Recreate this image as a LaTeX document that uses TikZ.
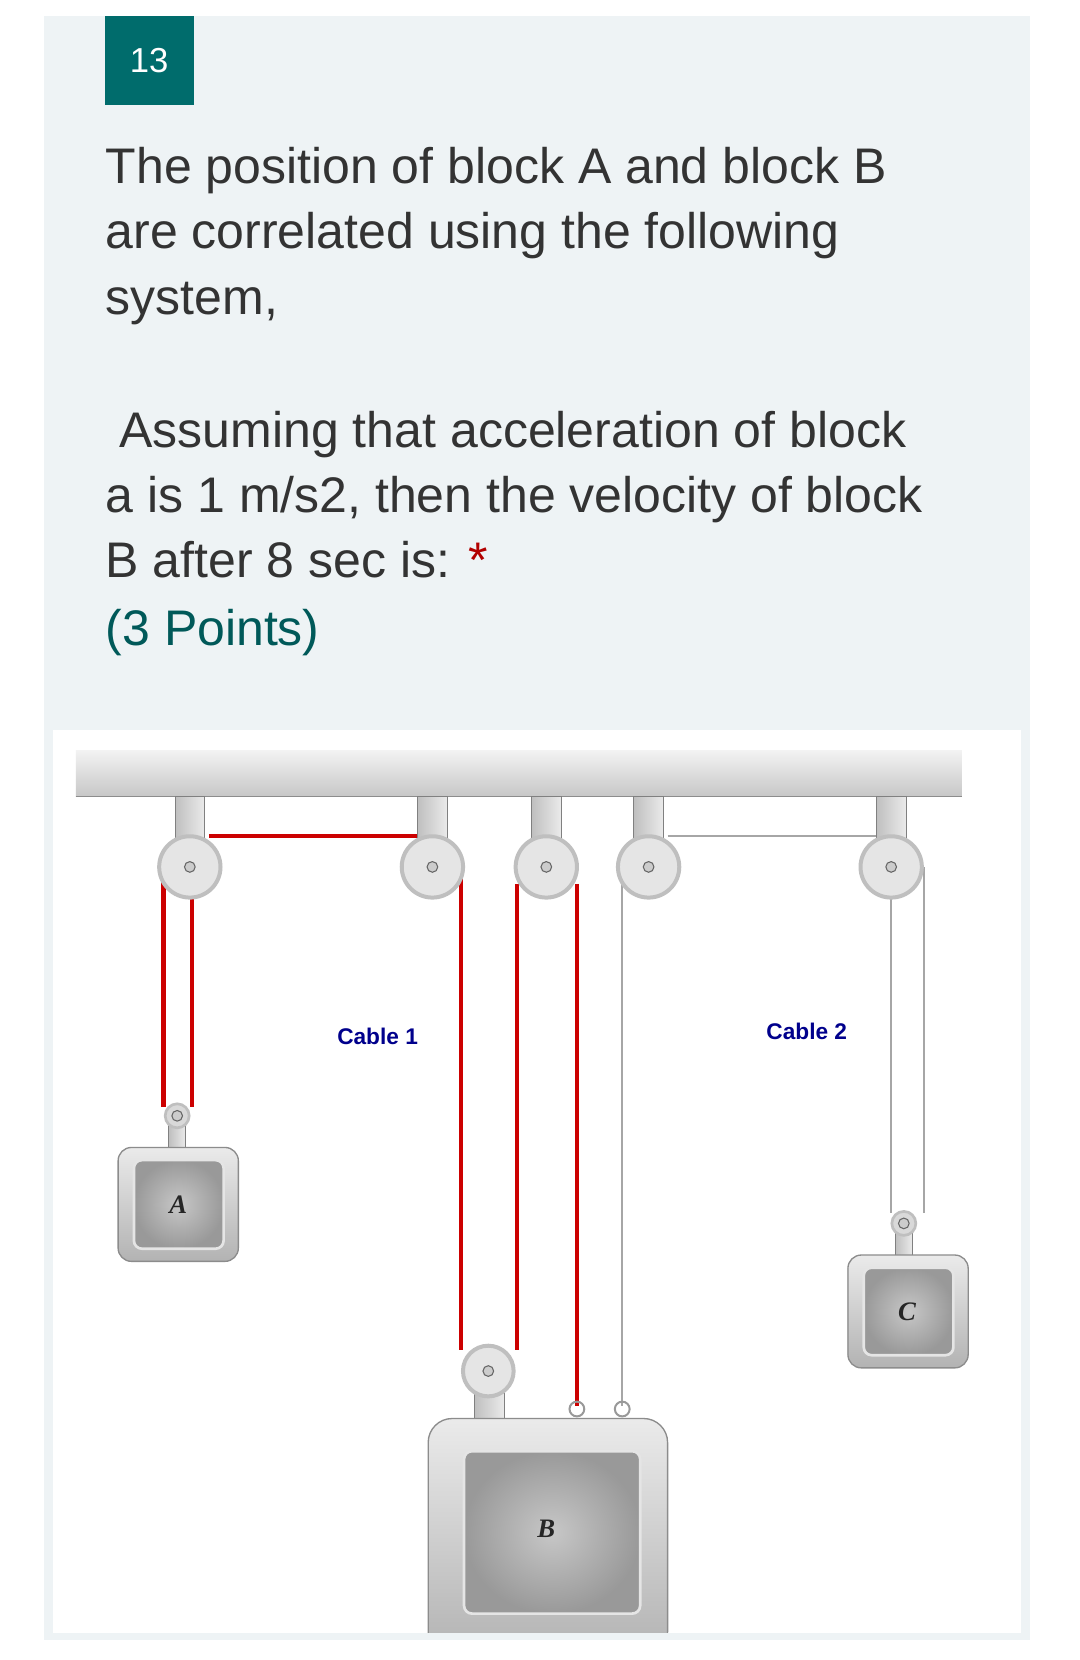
\documentclass[tikz,border=0pt]{standalone}
\usepackage{fontspec}
\setmainfont{Liberation Sans}
\newfontfamily\serifit{Liberation Serif}
\begin{document}
\begin{tikzpicture}[x=0.791pt,y=-0.791pt,
  txt/.style={anchor=base west,inner sep=0,font=\fontsize{37.5}{40}\selectfont,text=black!80},
  redc/.style={draw=red!80!black,line width=3.2pt},
  grayc/.style={draw=black!35,line width=1.6pt},
  hanger/.style={draw=black!50,left color=black!25,right color=black!8,line width=0.6pt},
  pulley/.style={circle,draw=black!25,fill=black!10,line width=3pt,minimum size=46pt,inner sep=0},
  axle/.style={circle,draw=black!60,fill=black!20,minimum size=8pt,inner sep=0,line width=0.8pt},
  blk/.style={draw=black!45,rounded corners=10pt,line width=1pt,top color=black!8,bottom color=black!30},
  inner/.style={draw=black!10,rounded corners=6pt,inner color=black!22,outer color=black!40,line width=2pt},
  blab/.style={font=\serifit\itshape\bfseries\fontsize{20}{22}\selectfont,inner sep=0,text=black!85},
  lbl/.style={font=\bfseries\fontsize{17}{20}\selectfont,text=blue!55!black,inner sep=0}]
\useasboundingbox (0,0) rectangle (1024,1574);
\fill[white] (0,0) rectangle (1024,1574);
\fill[cyan!25!gray!12] (42,15) rectangle (977,1555);
\node[fill=teal!85!black,text=white,minimum width=67pt,minimum height=67pt,inner sep=0,font=\fontsize{26}{30}\selectfont] (num) at (141.5,57.5) {13};
\node[txt] (l1) at (100,174) {The position of block A and block B};
\node[txt] (l2) at (100,236) {are correlated using the following};
\node[txt] (l3) at (100,298) {system,};
\node[txt] (l4) at (100,424) {\ Assuming that acceleration of block};
\node[txt] (l5) at (100,486) {a is 1 m/s2, then the velocity of block};
\node[txt] (l6) at (100,548) {B after 8 sec is: \textcolor{red!70!black}{*}};
\node[txt,text=teal!70!black] (l7) at (100,612) {(3 Points)};
\fill[white] (50,692) rectangle (968,1548);
\begin{scope}
\clip (50,692) rectangle (968,1548);
% ceiling
\shade[top color=black!5,bottom color=black!22] (72,712) rectangle (912,755);
\draw[black!45,line width=1pt] (72,755) -- (912,755);
% cables
\draw[redc] (155,822) -- (155,1050);
\draw[redc] (182,822) -- (182,1050);
\draw[redc] (198,793) -- (396,793);
\draw[redc] (437,822) -- (437,1280);
\draw[redc] (490,838) -- (490,1280);
\draw[redc] (547,838) -- (547,1333);
\draw[grayc] (590,822) -- (590,1333);
\draw[grayc] (633,793) -- (832,793);
\draw[grayc] (845,822) -- (845,1150);
\draw[grayc] (876,822) -- (876,1150);
% hangers and pulleys
\foreach \n/\x in {p1/180,p2/410,p3/518,p4/615,p5/845}{
  \draw[hanger] (\x-14,755) rectangle (\x+14,815);
  \node[pulley] (\n) at (\x,822) {};
  \node[axle] at (\x,822) {};
}
% A
\draw[hanger] (160,1058) rectangle (176,1092);
\node[circle,draw=black!25,fill=black!15,line width=2pt,minimum size=18pt,inner sep=0] (pa) at (168,1058) {};
\node[axle] at (168,1058) {};
\filldraw[blk] (112,1088) rectangle (226,1196);
\filldraw[inner] (127,1100) rectangle (212,1184);
\node[blab] (A) at (169,1142) {A};
% C
\draw[hanger] (849,1160) rectangle (865,1194);
\node[circle,draw=black!25,fill=black!15,line width=2pt,minimum size=18pt,inner sep=0] (pc) at (857,1160) {};
\node[axle] at (857,1160) {};
\filldraw[blk] (804,1190) rectangle (918,1297);
\filldraw[inner] (819,1202) rectangle (904,1285);
\node[blab] (C) at (860,1244) {C};
% B
\draw[hanger] (450,1300) rectangle (478,1350);
\node[pulley,minimum size=38pt] (pb) at (463,1300) {};
\node[axle] at (463,1300) {};
\draw[black!40,line width=1.5pt] (547,1336) circle (7);
\draw[black!40,line width=1.5pt] (590,1336) circle (7);
\filldraw[blk,rounded corners=18pt] (406,1345) rectangle (633,1570);
\filldraw[inner] (440,1376) rectangle (607,1530);
\node[blab] (B) at (518,1450) {B};
\end{scope}
\node[lbl] (c1) at (358,983) {Cable 1};
\node[lbl] (c2) at (765,978) {Cable 2};
\end{tikzpicture}
\end{document}
